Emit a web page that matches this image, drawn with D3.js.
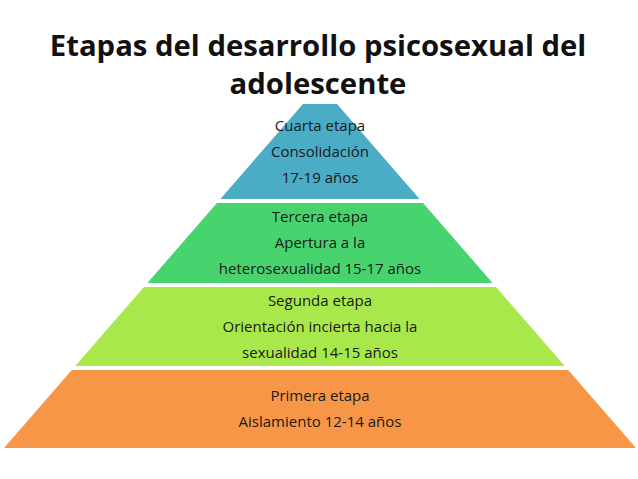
<!DOCTYPE html>
<html><head><meta charset="utf-8">
<script src="https://cdn.jsdelivr.net/npm/d3@7"></script>
<style>body{margin:0;background:#fff}</style>
</head><body>
<svg id="c" width="638" height="479"></svg>
<script>
// pyramid stages, top to bottom
const stages = ["Cuarta etapa", "Tercera etapa", "Segunda etapa", "Primera etapa"];
const stageLines = [
  ["Cuarta etapa", "Consolidación", "17-19 años"],
  ["Tercera etapa", "Apertura a la", "heterosexualidad 15-17 años"],
  ["Segunda etapa", "Orientación incierta hacia la", "sexualidad  14-15 años"],
  ["Primera etapa", "Aislamiento 12-14 años"]
];
const colors = ["#4BACC6", "#47D46E", "#A9E84A", "#F79646"];
const titleLines = ["Etapas del desarrollo psicosexual del", "adolescente"];

const svg = d3.select("#c");
const cx = 320;

// band edges in px (top, bottom) for each stage
const bands = [[104, 199], [203, 283], [287, 366], [370, 448]];
// half-width of pyramid as function of y
const hw = d3.scaleLinear().domain([104, 448]).range([17, 316]);

stages.forEach((s, i) => {
  const [t, b] = bands[i];
  const pts = [[cx - hw(t), t], [cx + hw(t), t], [cx + hw(b), b], [cx - hw(b), b]];
  svg.append("polygon").attr("points", pts.map(p => p.join(",")).join(" "))
    .attr("fill", colors[i]);
  const lines = stageLines[i];
  const step = 26;
  const mid = (t + b) / 2;
  lines.forEach((l, j) => {
    svg.append("text").attr("x", cx).attr("y", mid + (j - (lines.length - 1) / 2) * step + 5)
      .attr("text-anchor", "middle")
      .attr("font-family", "Open Sans, sans-serif").attr("font-size", 15)
      .attr("fill", "#1a1a1a").text(l);
  });
});

titleLines.forEach((l, i) => {
  svg.append("text").attr("x", 318).attr("y", 56 + i * 38)
    .attr("text-anchor", "middle")
    .attr("font-family", "Open Sans, sans-serif").attr("font-weight", "bold")
    .attr("font-size", 29.3).attr("fill", "#111").text(l);
});
</script>
</body></html>
